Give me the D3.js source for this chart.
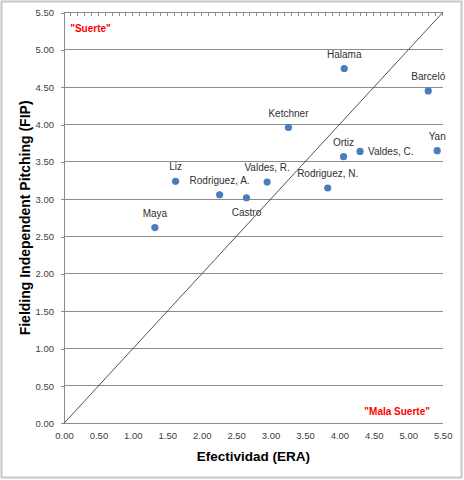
<!DOCTYPE html>
<html><head><meta charset="utf-8">
<script src="https://cdn.jsdelivr.net/npm/d3@7"></script>
<style>html,body{margin:0;padding:0;background:#fff}svg{display:block}</style>
</head><body>
<script>
const players = ["Maya","Liz","Rodriguez, A.","Castro","Valdes, R.","Ketchner","Rodriguez, N.","Ortiz","Halama","Valdes, C.","Barceló","Yan"];
const era = [1.32,1.62,2.26,2.65,2.95,3.26,3.83,4.06,4.07,4.30,5.29,5.42];
const fip = [2.62,3.24,3.06,3.02,3.23,3.96,3.15,3.57,4.75,3.64,4.45,3.65];
const labelPos = ["above","above","above","below","above","above","above","above","above","right","above","above"];
const tickValues = [0,0.5,1,1.5,2,2.5,3,3.5,4,4.5,5,5.5];
const refLine = [0,5.5];
const notes = [{text:'"Suerte"', x:0.09, y:5.24, anchor:"start"},{text:'"Mala Suerte"', x:5.315, y:0.11, anchor:"end"}];

const W=464,H=480;
const svg=d3.select("body").append("svg").attr("width",W).attr("height",H);
svg.append("rect").attr("x",1.5).attr("y",1.5).attr("width",460).attr("height",476)
  .attr("fill","#fff").attr("stroke","#c6c6c6").attr("stroke-width",2);

const x=d3.scaleLinear().domain([0,5.5]).range([64,442.7]);
const y=d3.scaleLinear().domain([0,5.5]).range([423.3,12.5]);
const font="'Liberation Sans', Arial, sans-serif";

// gridlines
svg.append("g").selectAll("line").data(tickValues.slice(1)).join("line")
  .attr("x1",x(0)).attr("x2",x(5.5)).attr("y1",d=>y(d)).attr("y2",d=>y(d))
  .attr("stroke","#8c8c8c").attr("stroke-width",1).attr("shape-rendering","crispEdges");

// top minor ticks
const minor=d3.range(1,56).map(i=>i/10);
svg.append("g").selectAll("line").data(minor).join("line")
  .attr("x1",d=>x(d)).attr("x2",d=>x(d)).attr("y1",y(5.5)).attr("y2",y(5.5)+3)
  .attr("stroke","#8c8c8c").attr("stroke-width",1).attr("shape-rendering","crispEdges");

// axes
const xAxis=d3.axisBottom(x).tickValues(tickValues).tickFormat(d3.format(".2f")).tickSize(0).tickPadding(9);
const yAxis=d3.axisLeft(y).tickValues(tickValues).tickFormat(d3.format(".2f")).tickSize(3).tickPadding(7);
const gx=svg.append("g").attr("transform",`translate(0,${y(0)})`).call(xAxis);
const gy=svg.append("g").attr("transform",`translate(${x(0)},0)`).call(yAxis);
[gx,gy].forEach(g=>{
  g.select(".domain").attr("stroke","#8c8c8c").attr("shape-rendering","crispEdges");
  g.selectAll(".tick line").attr("stroke","#8c8c8c").attr("shape-rendering","crispEdges");
  g.selectAll("text").attr("font-family",font).attr("font-size",9.5).attr("fill","#404040");
});

// diagonal
svg.append("line").attr("x1",x(refLine[0])).attr("y1",y(refLine[0])).attr("x2",x(refLine[1])).attr("y2",y(refLine[1]))
  .attr("stroke","#404040").attr("stroke-width",0.9);

// points
const data=players.map((p,i)=>({p,x:era[i],y:fip[i],pos:labelPos[i]}));
svg.append("g").selectAll("circle").data(data).join("circle")
  .attr("cx",d=>x(d.x)).attr("cy",d=>y(d.y)).attr("r",3.6).attr("fill","#4a7ebb");

// labels
svg.append("g").selectAll("text").data(data).join("text")
  .attr("x",d=>d.pos==="right"?x(d.x)+8:x(d.x))
  .attr("y",d=>d.pos==="above"?y(d.y)-11:d.pos==="below"?y(d.y)+18:y(d.y)+4)
  .attr("text-anchor",d=>d.pos==="right"?"start":"middle")
  .attr("font-family",font).attr("font-size",10).attr("fill","#303030")
  .text(d=>d.p);

// notes
svg.append("g").selectAll("text").data(notes).join("text")
  .attr("x",d=>x(d.x)).attr("y",d=>y(d.y)).attr("text-anchor",d=>d.anchor)
  .attr("font-family",font).attr("font-size",10).attr("font-weight","bold").attr("fill","#ff0000")
  .text(d=>d.text);

// titles
svg.append("text").attr("x",(x(0)+x(5.5))/2).attr("y",461).attr("text-anchor","middle")
  .attr("font-family",font).attr("font-size",13.5).attr("font-weight","bold").attr("fill","#000")
  .text("Efectividad (ERA)");
svg.append("text").attr("transform",`translate(30,${(y(0)+y(5.5))/2}) rotate(-90)`).attr("text-anchor","middle")
  .attr("font-family",font).attr("font-size",14).attr("font-weight","bold").attr("fill","#000")
  .text("Fielding Independent Pitching (FIP)");
</script>
</body></html>
